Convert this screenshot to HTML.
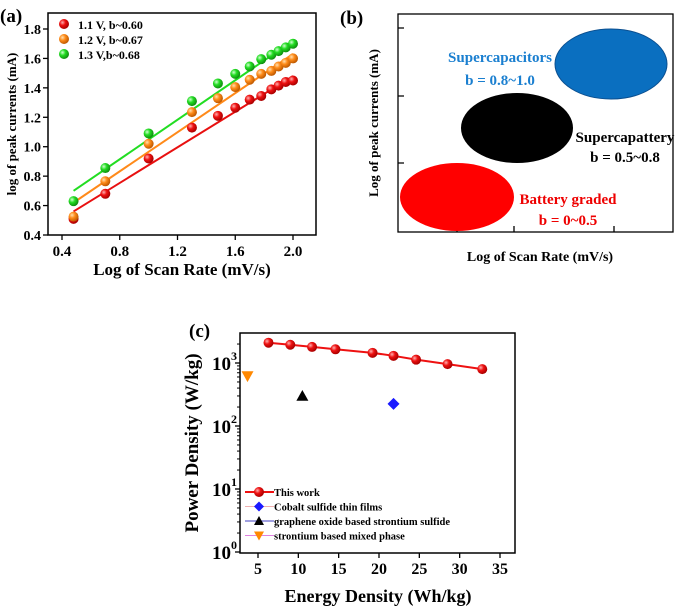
<!DOCTYPE html>
<html><head><meta charset="utf-8"><style>
html,body{margin:0;padding:0;background:#fff;width:685px;height:608px;overflow:hidden}
svg{display:block;font-family:"Liberation Serif",serif;font-weight:bold}
</style></head><body>
<svg id="fig" width="685" height="608" viewBox="0 0 685 608">
<defs>
<radialGradient id="gr" cx="35%" cy="35%" r="65%"><stop offset="0" stop-color="#ffb0b0"/><stop offset="0.45" stop-color="#ee1111"/><stop offset="1" stop-color="#aa0000"/></radialGradient>
<radialGradient id="go" cx="35%" cy="35%" r="65%"><stop offset="0" stop-color="#ffe0b0"/><stop offset="0.45" stop-color="#ff8c1a"/><stop offset="1" stop-color="#c05a00"/></radialGradient>
<radialGradient id="gg" cx="35%" cy="35%" r="65%"><stop offset="0" stop-color="#d0ffd0"/><stop offset="0.45" stop-color="#22dd22"/><stop offset="1" stop-color="#109010"/></radialGradient>
</defs>
<g id="pa"></g>
<g id="pb">
<text x="340" y="24" font-size="19">(b)</text>
<rect x="398" y="14" width="275" height="218" fill="none" stroke="#000" stroke-width="1.3"/>
<path d="M398 28h6M398 96h6M398 163h6M457 232v-6M514 232v-6M614 232v-6" stroke="#000" stroke-width="1.3"/>
<ellipse cx="611" cy="64" rx="56" ry="35" fill="#0a6fc0" stroke="#0a4f90"/>
<ellipse cx="517" cy="128" rx="56" ry="35" fill="#000"/>
<ellipse cx="457" cy="197" rx="57" ry="34" fill="#ff0000"/>
<g font-size="15" text-anchor="middle">
<text x="500" y="62" fill="#1a7fd0">Supercapacitors</text>
<text x="500" y="85" fill="#1a7fd0">b = 0.8~1.0</text>
<text x="625" y="142" fill="#000">Supercapattery</text>
<text x="625" y="162" fill="#000">b = 0.5~0.8</text>
<text x="568" y="204" fill="#ee0000">Battery graded</text>
<text x="568" y="225" fill="#ee0000">b = 0~0.5</text>
</g>
<text x="540" y="261" font-size="14" text-anchor="middle">Log of Scan Rate (mV/s)</text>
<text transform="translate(378,123) rotate(-90)" font-size="13" text-anchor="middle">Log of peak currents (mA)</text>
</g>
<g id="pc"></g>
</svg>
<script>
const NS="http://www.w3.org/2000/svg";
function mk(p,t,a,txt){const e=document.createElementNS(NS,t);for(const k in a)e.setAttribute(k,a[k]);if(txt!==undefined)e.textContent=txt;p.appendChild(e);return e;}
// ---------- Panel A data ----------
const scanRate=[0.48,0.70,1.0,1.30,1.48,1.60,1.70,1.78,1.85,1.90,1.95,2.0];
const current11=[0.51,0.68,0.92,1.13,1.21,1.265,1.32,1.345,1.39,1.415,1.44,1.45];
const current12=[0.525,0.765,1.02,1.235,1.33,1.405,1.455,1.495,1.515,1.545,1.57,1.60];
const current13=[0.63,0.855,1.09,1.31,1.43,1.495,1.545,1.595,1.625,1.65,1.675,1.70];
const fit11=[0.56,1.48];
const fit12=[0.62,1.63];
const fit13=[0.70,1.72];
const aXTicks=[0.4,0.8,1.2,1.6,2.0];
const aYTicks=[0.4,0.6,0.8,1.0,1.2,1.4,1.6,1.8];
const aLegend=["1.1 V, b~0.60","1.2 V, b~0.67","1.3 V,b~0.68"];
// ---------- Panel C data ----------
const twEnergy=[6.3,9,11.7,14.6,19.2,21.8,24.6,28.5,32.8];
const twPower=[2100,1950,1800,1650,1450,1300,1130,960,800];
const cobaltPt=[21.8,225];
const graphenePt=[10.5,300];
const mixedPt=[3.7,620];
const cXTicks=[5,10,15,20,25,30,35];
const cYTicks=[0,1,2,3];
const cLegend=["This work","Cobalt sulfide thin films","graphene oxide based strontium sulfide","strontium based mixed phase"];

// Panel A
const pa=document.getElementById('pa');
const ax=v=>62+(v-0.4)/1.6*231, ay=v=>235-(v-0.4)/1.4*206;
let t=mk(pa,'text',{x:0,y:22,'font-size':19},'(a)');


let r=mk(pa,'rect',{x:48,y:13,width:268,height:222,fill:'none',stroke:'#000','stroke-width':1.5});


aXTicks.forEach(v=>{
 mk(pa,'line',{x1:ax(v),x2:ax(v),y1:235,y2:240,stroke:'#000','stroke-width':1.3});
 const e=mk(pa,'text',{x:ax(v),y:256,'font-size':15,'text-anchor':'middle'},v.toFixed(1));
 
 
});
aYTicks.forEach(v=>{
 mk(pa,'line',{x1:43,x2:48,y1:ay(v),y2:ay(v),stroke:'#000','stroke-width':1.3});
 const e=mk(pa,'text',{x:41,y:ay(v)+5,'font-size':14,'text-anchor':'end'},v.toFixed(1));
 
 
});
t=mk(pa,'text',{x:182,y:275,'font-size':17,'text-anchor':'middle'},'Log of Scan Rate (mV/s)');


t=mk(pa,'text',{transform:'translate(16,124) rotate(-90)','font-size':13,'text-anchor':'middle'},'log of peak currents (mA)');


const aSeries=[[current11,fit11,'#e81010','url(#gr)'],[current12,fit12,'#ff8a1a','url(#go)'],[current13,fit13,'#22dd22','url(#gg)']];
aSeries.forEach((s,i)=>{
 const l=mk(pa,'line',{x1:ax(scanRate[0]),y1:ay(s[1][0]),x2:ax(scanRate[scanRate.length-1]),y2:ay(s[1][1]),stroke:s[2],'stroke-width':2});
 
 
});
aSeries.forEach((s,i)=>{
 s[0].forEach((v,j)=>{
  const c=mk(pa,'circle',{cx:ax(scanRate[j]),cy:ay(v),r:5,fill:s[3]});
  
  
 });
 const c=mk(pa,'circle',{cx:64,cy:24+i*15,r:5,fill:s[3]});
 
 
 const e=mk(pa,'text',{x:78,y:29+i*15,'font-size':12},aLegend[i]);
 
 
});

// Panel C
const pc=document.getElementById('pc');
const cx=v=>258+(v-5)/30*242, cy=v=>552-Math.log10(v)*63;
t=mk(pc,'text',{x:189,y:337,'font-size':19},'(c)');


r=mk(pc,'rect',{x:240,y:333,width:275,height:220,fill:'none',stroke:'#000','stroke-width':1.5});


cXTicks.forEach(v=>{
 mk(pc,'line',{x1:cx(v),x2:cx(v),y1:553,y2:558,stroke:'#000','stroke-width':1.3});
 const e=mk(pc,'text',{x:cx(v),y:574,'font-size':16,'text-anchor':'middle'},String(v));
 
 
});
cYTicks.forEach(p=>{
 const y=cy(Math.pow(10,p));
 mk(pc,'line',{x1:235,x2:240,y1:y,y2:y,stroke:'#000','stroke-width':1.3});
 for(let k=2;k<10;k++){const yy=cy(k*Math.pow(10,p));if(yy>333)mk(pc,'line',{x1:237,x2:240,y1:yy,y2:yy,stroke:'#000','stroke-width':1});}
 const e=mk(pc,'text',{x:231,y:y+7,'font-size':19,'text-anchor':'end'},'10');
 
 
 mk(pc,'text',{x:231,y:y-3,'font-size':12},String(p));
});
t=mk(pc,'text',{x:378,y:602,'font-size':18,'text-anchor':'middle'},'Energy Density (Wh/kg)');


t=mk(pc,'text',{transform:'translate(198,443) rotate(-90)','font-size':19,'text-anchor':'middle'},'Power Density (W/kg)');


const pts=twEnergy.map((e,i)=>cx(e)+','+cy(twPower[i])).join(' ');
let pl=mk(pc,'polyline',{points:pts,fill:'none',stroke:'#ee1111','stroke-width':2});


twEnergy.forEach((e,i)=>{
 const c=mk(pc,'circle',{cx:cx(e),cy:cy(twPower[i]),r:5,fill:'url(#gr)'});
 
 
});
function diamond(x,y,s){return `M${x} ${y-s}L${x+s} ${y}L${x} ${y+s}L${x-s} ${y}Z`;}
function tri(x,y,s){return `M${x} ${y-s}L${x+s} ${y+s*0.8}L${x-s} ${y+s*0.8}Z`;}
function dtri(x,y,s){return `M${x} ${y+s}L${x+s} ${y-s*0.8}L${x-s} ${y-s*0.8}Z`;}
let m=mk(pc,'path',{d:diamond(cx(cobaltPt[0]),cy(cobaltPt[1]),6),fill:'#1a1aff'});


m=mk(pc,'path',{d:tri(cx(graphenePt[0]),cy(graphenePt[1]),6),fill:'#000'});


m=mk(pc,'path',{d:dtri(cx(mixedPt[0]),cy(mixedPt[1]),6),fill:'#ff8800'});


const legCol=['#ee1111','#f0b0b0','#4040c0','#e080e0'];
cLegend.forEach((txt,i)=>{
 const y=492+i*14.5;
 mk(pc,'line',{x1:245,x2:274,y1:y,y2:y,stroke:legCol[i],'stroke-width':i==0?2:1});
 let mm;
 if(i==0)mm=mk(pc,'circle',{cx:259,cy:y,r:5,fill:'url(#gr)'});
 else if(i==1)mm=mk(pc,'path',{d:diamond(259,y,5),fill:'#1a1aff'});
 else if(i==2)mm=mk(pc,'path',{d:tri(259,y,5),fill:'#000'});
 else mm=mk(pc,'path',{d:dtri(259,y,5),fill:'#ff8800'});
 
 
 const e=mk(pc,'text',{x:274,y:y+4,'font-size':10.5},txt);
 
 
});
</script>
</body></html>
